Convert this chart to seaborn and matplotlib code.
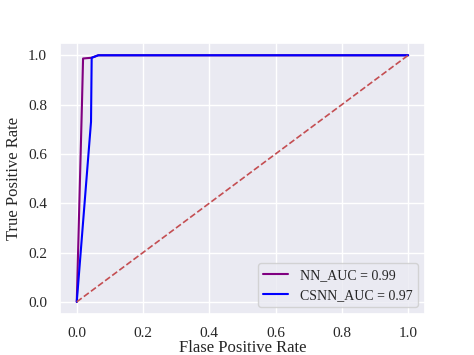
import matplotlib
matplotlib.use("Agg")
import matplotlib.pyplot as plt
import seaborn as sns

# ROC points
nn_fpr = [0.0, 0.016, 0.019, 0.045, 0.065, 1.0]
nn_tpr = [0.0, 0.82, 0.987, 0.99, 1.0, 1.0]
csnn_fpr = [0.0, 0.043, 0.045, 0.065, 1.0]
csnn_tpr = [0.0, 0.73, 0.99, 1.0, 1.0]
diag = [0.0, 1.0]

sns.set(font_scale=1)
plt.rcParams['font.family'] = ['Liberation Serif', 'DejaVu Serif']

fig = plt.figure(figsize=(4.74, 3.55), dpi=100)
ax = fig.add_axes([0.127, 0.115, 0.769, 0.764])

sns.lineplot(x=nn_fpr, y=nn_tpr, color='purple', linewidth=1.5, label='NN_AUC = 0.99', ax=ax, sort=False)
sns.lineplot(x=csnn_fpr, y=csnn_tpr, color='blue', linewidth=1.5, label='CSNN_AUC = 0.97', ax=ax, sort=False)
ax.plot(diag, diag, 'r--', linewidth=1.2)

ax.set_xlabel('Flase Positive Rate', fontsize=12, labelpad=0)
ax.set_ylabel('True Positive Rate', fontsize=12)
ax.tick_params(labelsize=11)
ax.legend(loc='lower right', fontsize=10, handlelength=1.8)

fig.savefig('out.png', dpi=100)
